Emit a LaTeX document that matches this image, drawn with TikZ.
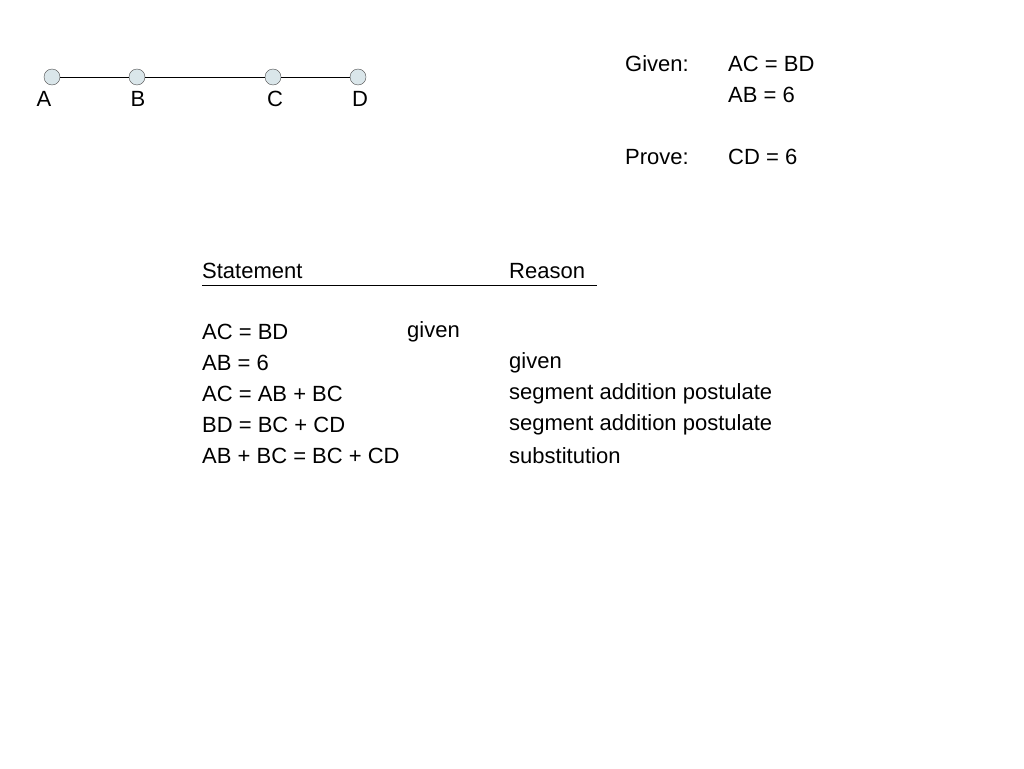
\documentclass[tikz,border=0pt]{standalone}
\usepackage{fontspec}
\setmainfont{Liberation Sans}
\begin{document}
\begin{tikzpicture}[x=1pt,y=-1pt,
    pt/.style={circle, draw=black!70, fill=cyan!30!gray!25, minimum size=16pt, inner sep=0pt},
    txt/.style={anchor=west, inner sep=0pt, font=\fontsize{22}{26}\selectfont}]
    \useasboundingbox (0,0) rectangle (1024,768);

    %segment
    \node[pt] (A) at (52,77) {};
    \node[pt] (B) at (137,77) {};
    \node[pt] (C) at (273,77) {};
    \node[pt] (D) at (358,77) {};
    \draw (A) -- (B) -- (C) -- (D);
    \node[txt, anchor=center] at (44,99) {A};
    \node[txt, anchor=center] at (138,99) {B};
    \node[txt, anchor=center] at (275,99) {C};
    \node[txt, anchor=center] at (360,99) {D};

    %given / prove
    \node[txt] at (625,64) {Given:};
    \node[txt] at (728,64) {AC = BD};
    \node[txt] at (728,95) {AB = 6};
    \node[txt] at (625,157) {Prove:};
    \node[txt] at (728,157) {CD = 6};

    %table
    \node[txt] at (202,271) {Statement};
    \node[txt] at (509,271) {Reason};
    \draw (202,285) -- (597,285);
    \node[txt] at (202,332) {AC = BD};
    \node[txt] at (407,332) {given};
    \node[txt] at (202,363) {AB = 6};
    \node[txt] at (509,363) {given};
    \node[txt] at (202,394) {AC = AB + BC};
    \node[txt] at (509,394) {segment addition postulate};
    \node[txt] at (202,425) {BD = BC + CD};
    \node[txt] at (509,425) {segment addition postulate};
    \node[txt] at (202,456) {AB + BC = BC + CD};
    \node[txt] at (509,456) {substitution};
\end{tikzpicture}
\end{document}
